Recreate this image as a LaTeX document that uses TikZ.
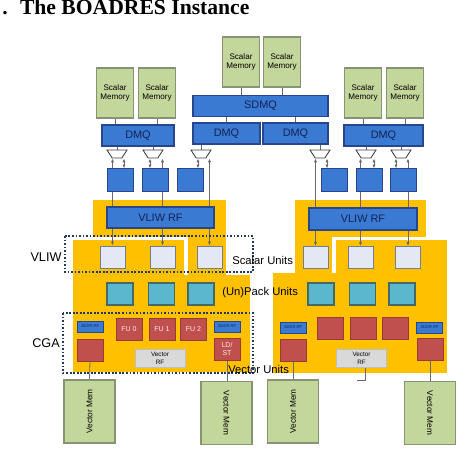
\documentclass[tikz,border=0pt]{standalone}
\usepackage{fontspec}
\usepackage{graphicx}
\setmainfont{Liberation Serif}
\setsansfont{Liberation Sans}
\usetikzlibrary{shapes.geometric,arrows.meta}

\newlength\pxu
\setlength\pxu{0.02cm}

\definecolor{memgreen}{RGB}{195,214,155}
\definecolor{memline}{RGB}{135,148,115}
\definecolor{qblue}{RGB}{58,122,210}
\definecolor{qline}{RGB}{40,70,140}
\definecolor{qtext}{RGB}{20,35,85}
\definecolor{gold}{RGB}{255,192,0}
\definecolor{sufill}{RGB}{228,232,245}
\definecolor{suline}{RGB}{120,125,140}
\definecolor{packfill}{RGB}{91,183,205}
\definecolor{packline}{RGB}{70,105,100}
\definecolor{fured}{RGB}{192,80,77}
\definecolor{furedline}{RGB}{150,60,55}
\definecolor{rfgray}{RGB}{217,217,217}
\definecolor{wiregray}{RGB}{105,105,105}
\definecolor{dotnavy}{RGB}{31,56,100}

\pgfdeclarelayer{bg}
\pgfdeclarelayer{wires}
\pgfsetlayers{bg,wires,main}

\tikzset{
  every node/.style={font=\sffamily, inner sep=0pt},
  mem/.style={draw=memline, fill=memgreen, line width=0.6pt, align=center,
    minimum width=37*\pxu, minimum height=50*\pxu,
    font=\sffamily\fontsize{4.6}{5.4}\selectfont},
  vmem/.style={mem, minimum width=51*\pxu, minimum height=63*\pxu,
    font=\sffamily\fontsize{4.7}{5.4}\selectfont},
  queue/.style={draw=qline, fill=qblue, line width=0.6pt, minimum height=21*\pxu,
    text=qtext, font=\sffamily\fontsize{6.2}{7}\selectfont},
  reg/.style={draw=qline, fill=qblue, line width=0.4pt,
    minimum width=26*\pxu, minimum height=23*\pxu},
  mux/.style={trapezium, shape border rotate=180, trapezium stretches=true,
    trapezium left angle=62, trapezium right angle=62, inner sep=0.5pt,
    draw=black!75, fill=white, line width=0.5pt,
    minimum width=20*\pxu, minimum height=8*\pxu},
  sunit/.style={draw=suline, fill=sufill, line width=0.5pt,
    minimum width=25*\pxu, minimum height=22*\pxu},
  pack/.style={draw=packline, fill=packfill, line width=0.6pt,
    minimum width=26*\pxu, minimum height=22*\pxu},
  fu/.style={draw=furedline, fill=fured, line width=0.5pt, text=red!8,
    minimum width=26*\pxu, minimum height=22*\pxu, align=center,
    font=\sffamily\fontsize{4}{4.6}\selectfont},
  addr/.style={draw=qline, fill=qblue, line width=0.4pt, text=qtext,
    minimum width=26*\pxu, minimum height=11*\pxu,
    font=\sffamily\fontsize{2.3}{3}\selectfont},
  vrf/.style={draw=black!25, fill=rfgray, line width=0.5pt, align=center,
    minimum width=50*\pxu, minimum height=18*\pxu,
    font=\sffamily\fontsize{3.6}{4.4}\selectfont},
  lbl/.style={anchor=west, font=\sffamily\fontsize{6.4}{7}\selectfont},
  mode/.style={font=\sffamily\fontsize{7.2}{8}\selectfont},
  wire/.style={draw=wiregray, line width=0.45pt},
  bus/.style={wire, {Latex[length=2.2pt,width=1.8pt]}-{Latex[length=2.2pt,width=1.8pt]}},
  modebox/.style={draw=dotnavy, line width=1pt, dash pattern=on 1pt off 1pt}
}

\begin{document}
\begin{tikzpicture}[x=0.02cm, y=-0.02cm]
\useasboundingbox (0,0) rectangle (474,470);

% Titel
\node[anchor=base west, font=\rmfamily\bfseries\fontsize{12.3}{14}\selectfont] (title) at (2,14.5)
  {.\hspace{7pt}The BOADRES Instance};

% gelbe Flaechen
\begin{pgfonlayer}{bg}
  % links
  \fill[gold] (93,200) rectangle (226,237);
  \fill[gold] (188,236) rectangle (226,276);
  \fill[gold] (73,240) rectangle (184,276);
  \fill[gold] (73,275) rectangle (250,372);
  % rechts
  \fill[gold] (295,200) rectangle (426,237);
  \fill[gold] (295,236) rectangle (332,274);
  \fill[gold] (336,240) rectangle (447,274);
  \fill[gold] (273,273) rectangle (447,373);
\end{pgfonlayer}

% Speicher oben
\node[mem] (sm1) at (115,93) {Scalar\\Memory};
\node[mem] (sm2) at (157,93) {Scalar\\Memory};
\node[mem] (sm3) at (241,62) {Scalar\\Memory};
\node[mem] (sm4) at (282,62) {Scalar\\Memory};
\node[mem] (sm5) at (363,93) {Scalar\\Memory};
\node[mem] (sm6) at (405,93) {Scalar\\Memory};

% Queues
\node[queue, minimum width=135*\pxu] (sdmq) at (260.5,106) {SDMQ};
\node[queue, minimum width=72*\pxu] (dmq1) at (138,135.5) {DMQ};
\node[queue, minimum width=67*\pxu] (dmq2) at (226.5,133.5) {DMQ};
\node[queue, minimum width=65*\pxu] (dmq3) at (295.5,133.5) {DMQ};
\node[queue, minimum width=79*\pxu] (dmq4) at (383.5,135.5) {DMQ};

% Multiplexer
\node[mux] (mux1) at (117,154) {};
\node[mux] (mux2) at (153,154) {};
\node[mux] (mux3) at (201,154) {};
\node[mux] (mux4) at (320,154) {};
\node[mux] (mux5) at (366,154) {};
\node[mux] (mux6) at (401,154) {};

% Register
\node[reg] (rb1) at (120,179.5) {};
\node[reg] (rb2) at (155.5,179.5) {};
\node[reg] (rb3) at (190,179.5) {};
\node[reg] (rb4) at (334,179.5) {};
\node[reg] (rb5) at (369,179.5) {};
\node[reg] (rb6) at (403,179.5) {};

% VLIW RF
\node[queue, minimum width=107*\pxu] (rfL) at (160.5,217.5) {VLIW RF};
\node[queue, minimum width=108*\pxu, minimum height=22*\pxu] (rfR) at (363,219) {VLIW RF};

% Scalar Units
\node[sunit] (su1) at (112.5,257) {};
\node[sunit] (su2) at (162.5,257) {};
\node[sunit] (su3) at (209.5,257) {};
\node[sunit] (su4) at (315.5,257.5) {};
\node[sunit] (su5) at (360.5,257.5) {};
\node[sunit] (su6) at (408,257.5) {};

% (Un)Pack Units
\node[pack] (pk1) at (120,294) {};
\node[pack] (pk2) at (161.5,294) {};
\node[pack] (pk3) at (201,294) {};
\node[pack] (pk4) at (321,294) {};
\node[pack] (pk5) at (362.5,294) {};
\node[pack] (pk6) at (402,294) {};

% CGA links
\node[addr] (arL1) at (90,326.5) {ADDR RF};
\node[fu] (fuL0) at (129,329) {FU 0};
\node[fu] (fuL1) at (162,329) {FU 1};
\node[fu] (fuL2) at (193.5,329) {FU 2};
\node[addr] (arL2) at (227,326.5) {ADDR RF};
\node[fu] (lsL1) at (90,350) {};
\node[vrf] (vrfL) at (160,358) {Vector\\RF};
\node[fu] (lsL2) at (227,349) {LD/\\ST};

% CGA rechts
\node[addr] (arR1) at (293,327.5) {ADDR RF};
\node[fu] (fuR0) at (330.5,328.5) {};
\node[fu] (fuR1) at (363.5,328.5) {};
\node[fu] (fuR2) at (395,328.5) {};
\node[addr] (arR2) at (429.5,327.5) {ADDR RF};
\node[fu] (lsR1) at (293,350.5) {};
\node[vrf] (vrfR) at (361.5,358.5) {Vector\\RF};
\node[fu] (lsR2) at (430,349) {};

% Vector Mem
\node[vmem] (vm1) at (89.5,411.5) {\rotatebox{90}{Vector Mem}};
\node[vmem] (vm2) at (226.5,413) {\rotatebox{-90}{Vector Mem}};
\node[vmem] (vm3) at (293,411.5) {\rotatebox{90}{Vector Mem}};
\node[vmem] (vm4) at (430,413) {\rotatebox{-90}{Vector Mem}};

% Modi
\draw[modebox] (65,236) rectangle (253,272);
\draw[modebox] (63,313) rectangle (253,373);
\node[mode] (vliw) at (46,257) {VLIW};
\node[mode] (cga) at (46,343) {CGA};

% Beschriftung
\node[lbl] (lscalar) at (232,260) {Scalar Units};
\node[lbl] (lpack) at (222,293) {(Un)Pack Units};
\node[lbl] (lvector) at (228,369) {Vector Units};

% Verbindungen
\begin{pgfonlayer}{wires}
  \draw[wire] (sm1.south) -- (sm1.south |- dmq1.north);
  \draw[wire] (sm2.south) -- (sm2.south |- dmq1.north);
  \draw[wire] (sm3.south) -- (sm3.south |- sdmq.north);
  \draw[wire] (sm4.south) -- (sm4.south |- sdmq.north);
  \draw[wire] (sm5.south) -- (sm5.south |- dmq4.north);
  \draw[wire] (sm6.south) -- (sm6.south |- dmq4.north);
  \draw[wire] (dmq2.north) -- (dmq2.north |- sdmq.south);
  \draw[wire] (dmq3.north) -- (dmq3.north |- sdmq.south);

  \draw[wire] (mux1.north) -- (mux1.north |- dmq1.south);
  \draw[wire] (mux2.north) -- (mux2.north |- dmq1.south);
  \draw[wire] (mux3.north) -- (mux3.north |- dmq2.south);
  \draw[wire] (mux4.north) -- (mux4.north |- dmq3.south);
  \draw[wire] (mux5.north) -- (mux5.north |- dmq4.south);
  \draw[wire] (mux6.north) -- (mux6.north |- dmq4.south);

  % lange Leitungen zu den Scalar Units
  \draw[bus] (mux1.south -| su1.north) -- (su1.north);
  \draw[bus] (mux2.south -| su2.north) -- (su2.north);
  \draw[bus] (mux3.south -| su3.north) -- (su3.north);
  \draw[bus] (mux4.south -| su4.north) -- (su4.north);
  \draw[bus] (mux5.south -| su5.north) -- (su5.north);
  \draw[bus] (mux6.south -| su6.north) -- (su6.north);

  % kurze Leitungen zu den Registern
  \draw[bus] ([xshift=7*\pxu]mux1.south) -- ++(0,10);
  \draw[bus] ([xshift=-3*\pxu]mux2.south) -- ++(0,10);
  \draw[bus] ([xshift=-3*\pxu]mux3.south) -- ++(0,10);
  \draw[bus] ([xshift=7*\pxu]mux4.south) -- ++(0,10);
  \draw[bus] ([xshift=8*\pxu]mux5.south) -- ++(0,10);
  \draw[bus] ([xshift=-5*\pxu]mux6.south) -- ++(0,10);

  % Vector Mem
  \draw[wire] (lsL1.south) -- (vm1.north);
  \draw[wire] (lsL2.south) -- (lsL2.south |- vm2.north);
  \draw[wire] (lsR1.south) -- (lsR1.south |- vm3.north);
  \draw[wire] (lsR2.south) -- (lsR2.south |- vm4.north);
  \coordinate (vtail) at (357,380);
  \draw[wire] ([xshift=3.5*\pxu]vrfR.south) |- (vtail);
\end{pgfonlayer}

\end{tikzpicture}
\end{document}
